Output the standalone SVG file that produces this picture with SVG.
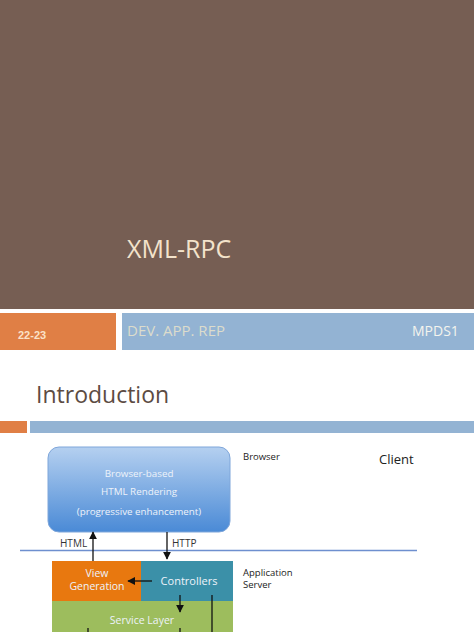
<svg xmlns="http://www.w3.org/2000/svg" width="474" height="632" viewBox="0 0 474 632">
<defs>
<linearGradient id="bg" x1="0" y1="0" x2="0" y2="1">
<stop offset="0" stop-color="#B5D0F0"/>
<stop offset="1" stop-color="#4A8AD6"/>
</linearGradient>
<marker id="ah" viewBox="0 0 10 10" refX="9" refY="5" markerWidth="6" markerHeight="6" orient="auto">
<path d="M0,0 L10,5 L0,10 z" fill="#111"/>
</marker>
<style>
.sans{font-family:"Open Sans","DejaVu Sans","Liberation Sans",sans-serif}
.lbl{font-family:"Open Sans","Liberation Sans",sans-serif;font-size:9.5px;fill:#222}
.wt{font-family:"Open Sans","Liberation Sans",sans-serif;fill:#EEF3FA;text-anchor:middle}
.conn{stroke:#111;stroke-width:1.3;fill:none}
</style>
</defs>
<rect width="474" height="632" fill="#fff"/>
<rect x="0" y="0" width="474" height="309" fill="#765E53"/>
<text x="127" y="258" class="sans" font-size="25" fill="#F3E3CB">XML-RPC</text>
<rect x="0" y="313" width="116" height="37" fill="#E07F45"/>
<rect x="122" y="313" width="352" height="37" fill="#93B3D3"/>
<text x="18" y="339" font-family="'Liberation Sans',sans-serif" font-weight="bold" font-size="11" fill="#FBE1C8">22-23</text>
<text x="127" y="336" class="sans" font-size="15" fill="#DCDCCC">DEV. APP. REP</text>
<text x="412" y="336" class="sans" font-size="14" fill="#F4F4EE">MPDS1</text>
<text x="36" y="403" class="sans" font-size="23" fill="#5C4B43">Introduction</text>
<rect x="0" y="421" width="27" height="12" fill="#E07F45"/>
<rect x="30" y="421" width="444" height="12" fill="#93B3D3"/>
<line x1="20" y1="550.5" x2="417" y2="550.5" stroke="#6E8FCF" stroke-width="1.5"/>
<g id="browser">
<rect x="48" y="447" width="182" height="85" rx="11" fill="url(#bg)" stroke="#7FA6DA" stroke-width="1"/>
<text x="139" y="477" class="wt" font-size="9.8">Browser-based</text>
<text x="139" y="495" class="wt" font-size="9.8">HTML Rendering</text>
<text x="139" y="515" class="wt" font-size="9.8">(progressive enhancement)</text>
</g>
<text x="243" y="460" class="lbl">Browser</text>
<text x="379" y="464" class="sans" font-size="13" fill="#222">Client</text>
<g id="view">
<rect x="52" y="561" width="89" height="40" fill="#E8780F"/>
<text x="97" y="577" class="wt" font-size="10.5" fill="#FBE6CF">View</text>
<text x="97" y="590" class="wt" font-size="10.5" fill="#FBE6CF">Generation</text>
</g>
<g id="controllers">
<rect x="141" y="561" width="92" height="40" fill="#3B90A8"/>
<text x="189" y="585" class="wt" font-size="11">Controllers</text>
</g>
<g id="service">
<rect x="52" y="601" width="181" height="31" fill="#9DBD5D"/>
<text x="142" y="624" class="wt" font-size="10.5">Service Layer</text>
</g>
<text x="243" y="576" class="lbl">Application</text>
<text x="243" y="588" class="lbl">Server</text>
<g id="connectors">
<line x1="93" y1="561" x2="93" y2="532" class="conn" marker-end="url(#ah)"/>
<line x1="167" y1="532" x2="167" y2="559" class="conn" marker-end="url(#ah)"/>
<line x1="152" y1="581" x2="128" y2="581" class="conn" marker-end="url(#ah)"/>
<line x1="180" y1="595" x2="180" y2="612" class="conn" marker-end="url(#ah)"/>
<line x1="212" y1="595" x2="212" y2="632" class="conn"/>
<line x1="88" y1="628" x2="88" y2="632" class="conn"/>
<line x1="180" y1="628" x2="180" y2="632" class="conn"/>
</g>
<text x="60" y="547" font-family="'Open Sans','Liberation Sans',sans-serif" font-size="10" fill="#333">HTML</text>
<text x="172" y="547" font-family="'Open Sans','Liberation Sans',sans-serif" font-size="10" fill="#333">HTTP</text>
</svg>
